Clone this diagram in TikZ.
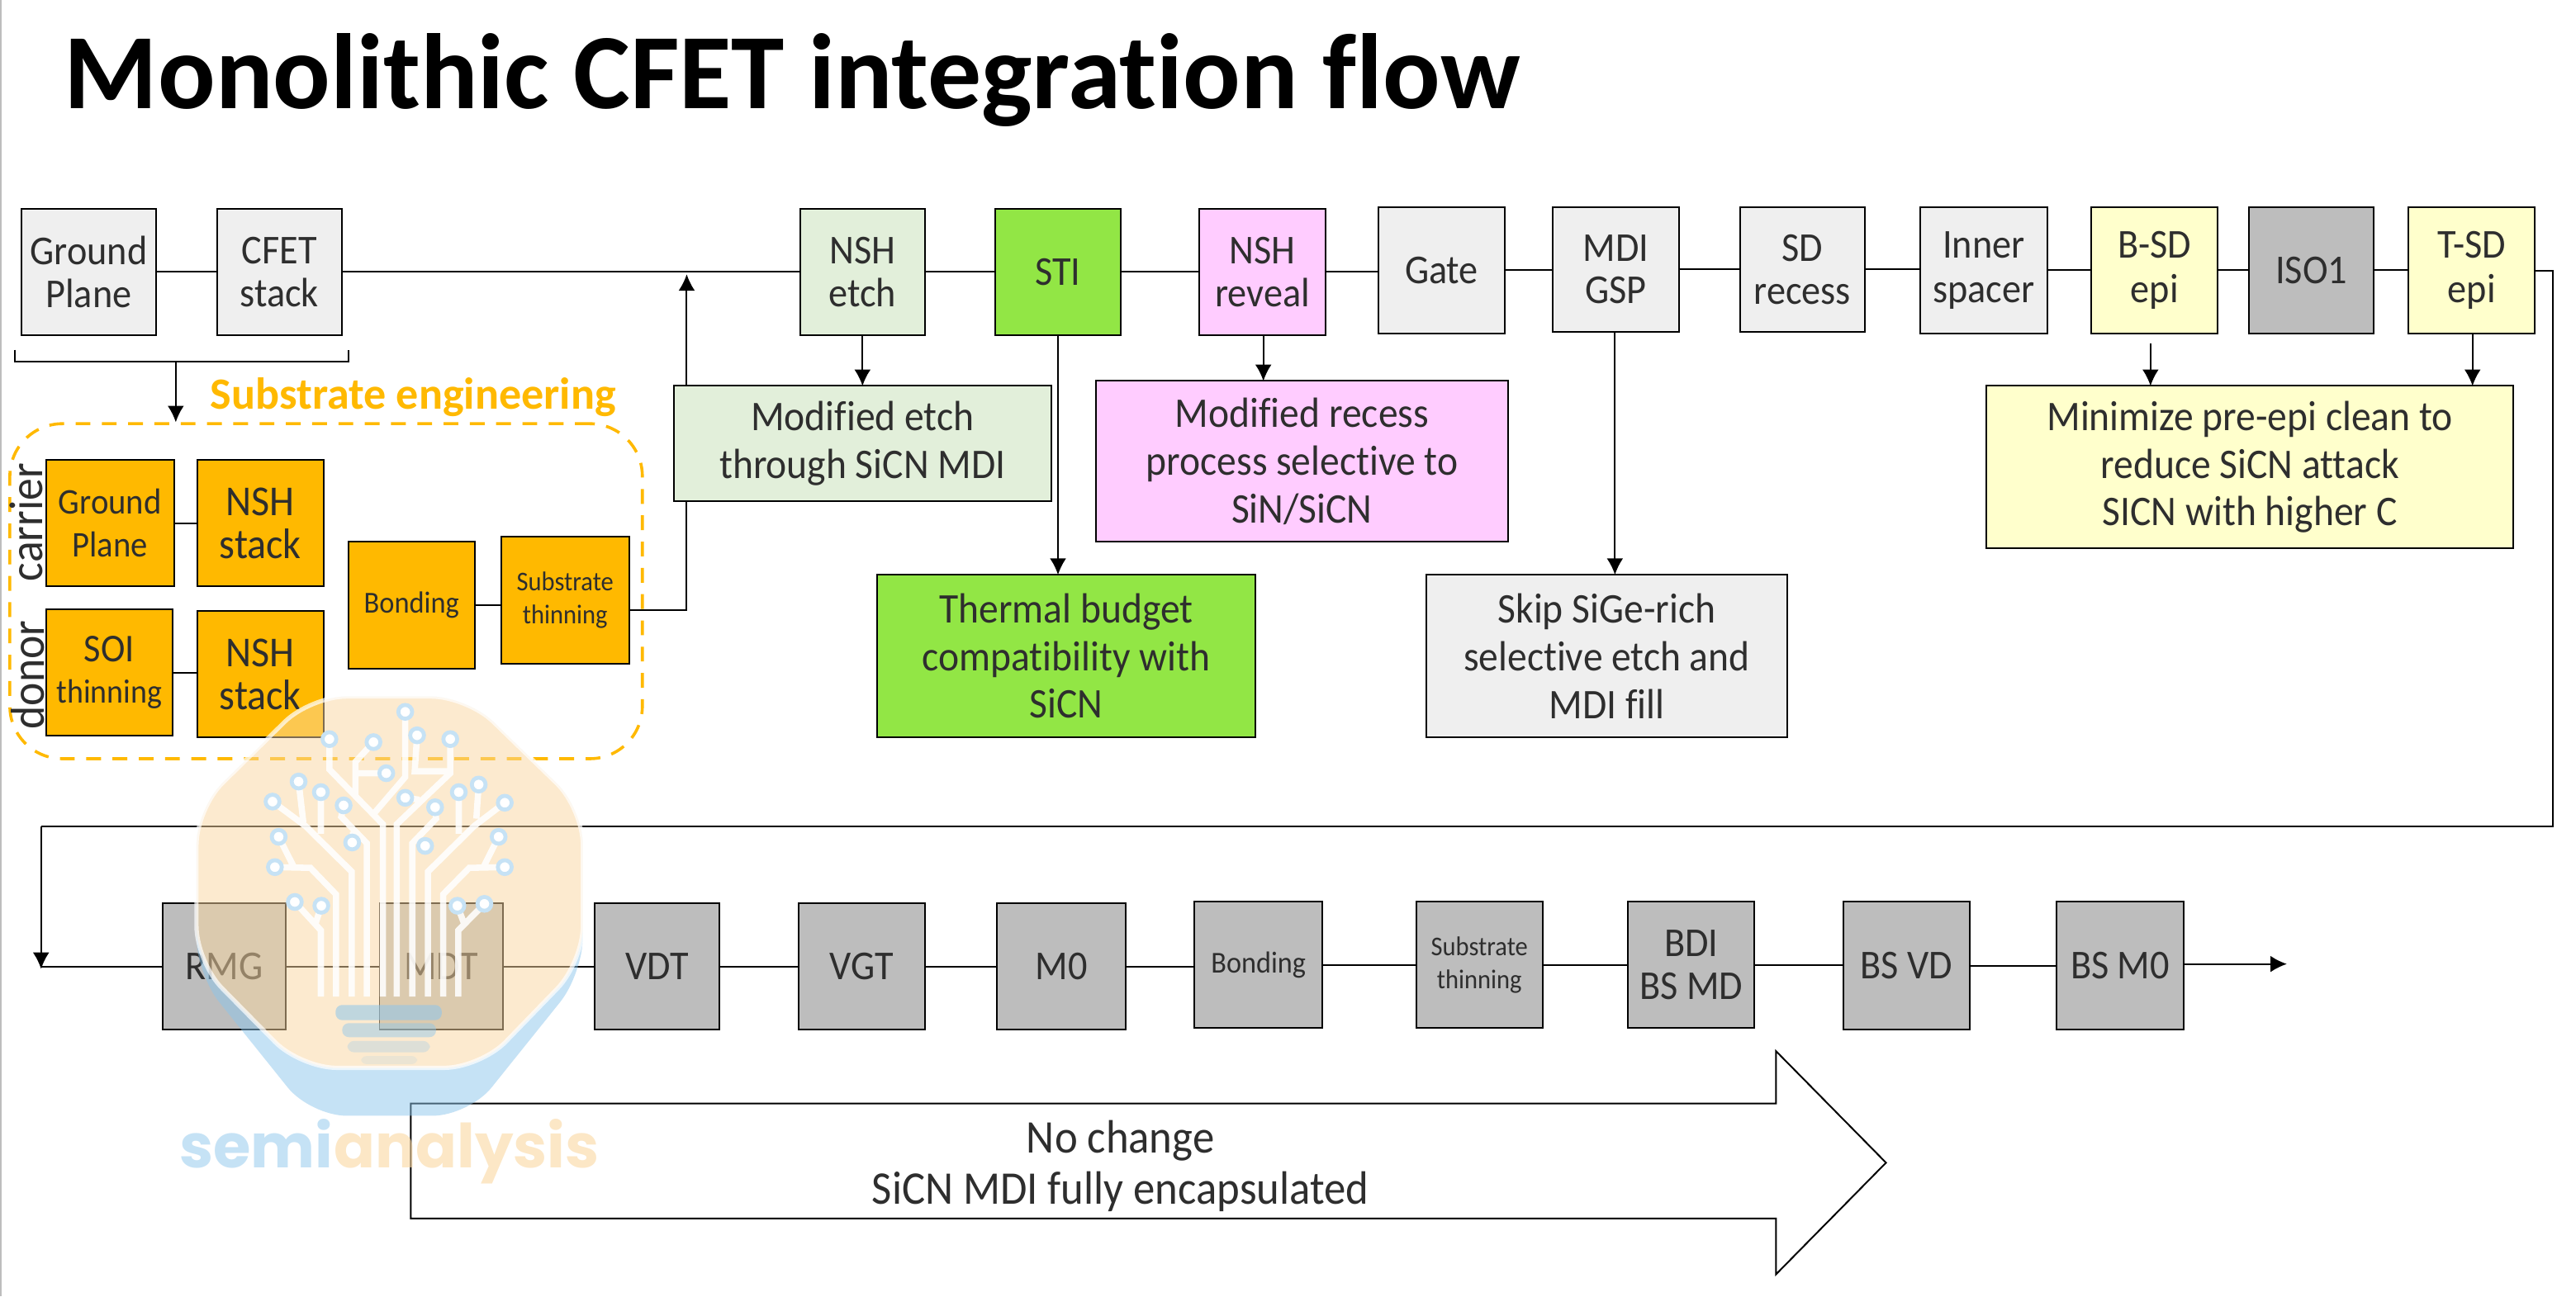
\documentclass[tikz,border=0pt]{standalone}
\usepackage{fontspec}
\setmainfont{Carlito}[Ligatures=NoCommon,FakeStretch=0.93]
\newfontfamily\headf{Carlito}[Ligatures=NoCommon]
\newfontfamily\wmfont{Poppins}
\usetikzlibrary{arrows.meta,calc}
\definecolor{lgray}{HTML}{EFEFEF}
\definecolor{mgray}{HTML}{BDBDBD}
\definecolor{lgreen}{HTML}{E2EFDA}
\definecolor{sgreen}{HTML}{92E645}
\definecolor{lpink}{HTML}{FFCCFF}
\definecolor{lyel}{HTML}{FFFFCC}
\definecolor{orng}{HTML}{FFB900}
\definecolor{txt}{HTML}{2E2E2E}
\definecolor{wmo}{HTML}{FAD7A0}
\definecolor{wmb}{HTML}{8DC6EC}
\tikzset{
 flowbox/.style={draw=black,line width=1pt,inner sep=0pt,outer sep=0pt,align=center,text=txt,font=\fontsize{25}{26}\selectfont},
 tallbox/.style={flowbox,font=\fontsize{25}{27}\selectfont},
 notebox/.style={flowbox,font=\fontsize{25.7}{29}\selectfont},
 smallbox/.style={flowbox,font=\fontsize{16.5}{20}\selectfont},
 link/.style={draw=black,line width=1pt},
 arr/.style={link,-{Latex[length=10pt,width=10pt]}},
 trace/.style={draw=white,line width=3.8pt,opacity=.88,line join=miter},
 endring/.style={draw=wmb!50,line width=2.4pt,fill=white},
 wmshape/.style={rounded corners=22pt},
}
\newcommand{\bx}[7]{\node[#6,minimum width={(#3-#2)*1pt},minimum height={(#5-#4)*1pt}] (#1) at ({(#2+#3)/2},{(#4+#5)/2}) {#7};}
\newcommand{\lk}[2]{\draw[link] (#1.east) -- (#1.east -| #2.west);}
\begin{document}
\begin{tikzpicture}[x=1pt,y=-1pt]
\useasboundingbox (0,0) rectangle (1568,789.3);
\fill[white] (0,0) rectangle (1568,789.3);
\draw[line width=0.8pt,draw=mgray] (0.4,0) -- (0.4,789.3);
\node[anchor=base west,inner sep=0pt,font=\headf\fontsize{65.2}{65.2}\selectfont\bfseries,text=black] (title) at (39,66) {Monolithic CFET integration flow};
% row 1
\bx{gp}{13}{95}{127}{204}{flowbox,fill=lgray}{Ground\\Plane}
\bx{cfet}{132}{208}{127}{204}{flowbox,fill=lgray}{CFET\\stack}
\bx{nshe}{487}{563}{127}{204}{flowbox,fill=lgreen}{NSH\\etch}
\bx{sti}{606}{682}{127}{204}{flowbox,fill=sgreen}{STI}
\bx{nshr}{730}{807}{127}{204}{flowbox,fill=lpink}{NSH\\reveal}
\bx{gate}{839}{916}{126}{203}{flowbox,fill=lgray}{Gate}
\bx{mdi}{945}{1022}{126}{202}{flowbox,fill=lgray}{MDI\\GSP}
\bx{sd}{1059}{1135}{126}{202}{flowbox,fill=lgray}{SD\\recess}
\bx{inner}{1169}{1246}{126}{203}{tallbox,fill=lgray}{Inner\\spacer}
\bx{bsd}{1273}{1350}{126}{203}{tallbox,fill=lyel}{B-SD\\epi}
\bx{iso}{1369}{1445}{126}{203}{flowbox,fill=mgray}{ISO1}
\bx{tsd}{1466}{1543}{126}{203}{tallbox,fill=lyel}{T-SD\\epi}
\lk{gp}{cfet}\lk{cfet}{nshe}\lk{nshe}{sti}\lk{sti}{nshr}\lk{nshr}{gate}\lk{gate}{mdi}\lk{mdi}{sd}\lk{sd}{inner}\lk{inner}{bsd}\lk{bsd}{iso}\lk{iso}{tsd}
% notes
\bx{nm}{410}{640}{235}{305}{notebox,fill=lgreen}{Modified etch\\through SiCN MDI}
\bx{nr}{667}{918}{232}{330}{notebox,fill=lpink}{Modified recess\\process selective to\\SiN/SiCN}
\bx{nt}{534}{764}{350}{449}{notebox,fill=sgreen}{Thermal budget\\compatibility with\\SiCN}
\bx{ns}{868}{1088}{350}{449}{notebox,fill=lgray}{Skip SiGe-rich\\selective etch and\\MDI fill}
\bx{ny}{1209}{1530}{235}{334}{notebox,fill=lyel}{Minimize pre-epi clean to\\reduce SiCN attack\\SICN with higher C}
\draw[arr] (nshe.south) -- (nshe.south |- nm.north);
\draw[arr] (nshr.south -| 769,0) -- (769,0 |- nr.north);
\draw[arr] (sti.south -| 644,0) -- (644,0 |- nt.north);
\draw[arr] (mdi.south -| 983,0) -- (983,0 |- ns.north);
\draw[arr] ($(bsd.south -| 1309,0)+(0,6)$) -- (1309,0 |- ny.north);
\draw[arr] (tsd.south -| 1505,0) -- (1505,0 |- ny.north);
% substrate engineering
\coordinate (brl) at (9,213);\coordinate (brr) at (212,213);\coordinate (brm) at (107,220);
\draw[link] (brl) -- (9,220) -- (212,220) -- (brr);
\node[draw=orng,dash pattern=on 9pt off 7pt,line width=1.8pt,rounded corners=32pt,inner sep=0pt,minimum width=385pt,minimum height=204pt] (sub) at (198.5,360) {};
\draw[arr] (brm) -- (brm |- sub.north);
\node[inner sep=0pt,font=\headf\fontsize{27.2}{27}\selectfont\bfseries,text=orng] (subt) at (251.5,242) {Substrate engineering};
\bx{ogp}{28}{106}{280}{357}{flowbox,fill=orng}{\fontsize{22}{24}\selectfont Ground\\\fontsize{22}{24}\selectfont Plane}
\bx{ons1}{120}{197}{280}{357}{flowbox,fill=orng,font=\fontsize{26}{26}\selectfont}{NSH\\stack}
\bx{oso}{28}{105}{371}{448}{flowbox,fill=orng,font=\fontsize{24}{25}\selectfont}{SOI\\\fontsize{20.5}{24}\selectfont thinning}
\bx{ons2}{120}{197}{372}{449}{flowbox,fill=orng,font=\fontsize{26}{26}\selectfont}{NSH\\stack}
\bx{obo}{212}{289}{330}{407}{flowbox,fill=orng,font=\fontsize{18.6}{22}\selectfont}{Bonding}
\bx{ost}{305}{383}{327}{404}{smallbox,fill=orng}{Substrate\\thinning}
\lk{ogp}{ons1}\lk{oso}{ons2}\lk{obo}{ost}
\node[rotate=90,inner sep=0pt,font=\fontsize{29}{29}\selectfont,text=txt] (lc) at (16,318) {carrier};
\node[rotate=90,inner sep=0pt,font=\fontsize{29}{29}\selectfont,text=txt] (ld) at (17,411) {donor};
\coordinate (c1) at (418,371.5);\coordinate (tip) at (418,167);
\draw[link] (ost.east |- c1) -- (c1) -- (c1 |- nm.south);
\draw[arr] (c1 |- nm.north) -- (tip);
% row 2
\bx{rmg}{99}{174}{550}{627}{flowbox,fill=mgray}{RMG}
\bx{mdt}{231}{306}{550}{627}{flowbox,fill=mgray}{MDT}
\bx{vdt}{362}{438}{550}{627}{flowbox,fill=mgray}{VDT}
\bx{vgt}{486}{563}{550}{627}{flowbox,fill=mgray}{VGT}
\bx{mz}{607}{685}{550}{627}{flowbox,fill=mgray}{M0}
\bx{bo}{727}{805}{549}{626}{flowbox,fill=mgray,font=\fontsize{18.5}{22}\selectfont}{Bonding}
\bx{st}{862}{939}{549}{626}{smallbox,fill=mgray}{Substrate\\thinning}
\bx{bdi}{991}{1068}{549}{626}{flowbox,fill=mgray}{BDI\\BS MD}
\bx{bvd}{1122}{1199}{549}{627}{flowbox,fill=mgray}{BS VD}
\bx{bm}{1252}{1329}{549}{627}{flowbox,fill=mgray}{BS M0}
\lk{rmg}{mdt}\lk{mdt}{vdt}\lk{vdt}{vgt}\lk{vgt}{mz}\lk{mz}{bo}\lk{bo}{st}\lk{st}{bdi}\lk{bdi}{bvd}\lk{bvd}{bm}
\coordinate (rowend) at (1392,587);
\draw[arr] (bm.east |- rowend) -- (rowend);
% return line
\coordinate (r1) at (1554,165);\coordinate (r2) at (1554,503);\coordinate (r3) at (25,503);\coordinate (r4) at (25,590);
\draw[link] (tsd.east |- r1) -- (r1) -- (r2) -- (r3);
\draw[arr] (r3) -- (r4);
\draw[link] (rmg.west) -- (rmg.west -| r4);
% big arrow
\node[inner sep=0pt,minimum size=0pt] (ba) at (250,707) {};
\draw[draw=black,line width=1pt,fill=white] (ba.center |- 0,672) -- (1081,672) -- (1081,640) -- (1148,708) -- (1081,776) -- (1081,742) -- (ba.center |- 0,742) -- cycle;
\node[inner sep=0pt,align=center,text=txt,font=\fontsize{28.5}{31}\selectfont] (bt) at (682,710) {No change\\SiCN MDI fully encapsulated};
% watermark
\begin{scope}[scale=1.005]
\fill[wmb,opacity=.5,even odd rule] [wmshape] (188,422) -- (283,422) -- (353,490) -- (353,590) -- (284,676) -- (188,676) -- (119,590) -- (119,490) -- cycle
  (188,422) -- (283,422) -- (353,490) -- (353,583) -- (291,647) -- (182,647) -- (119,583) -- (119,490) -- cycle;
\fill[wmo,opacity=.5,wmshape] (188,422) -- (283,422) -- (353,490) -- (353,583) -- (291,647) -- (182,647) -- (119,583) -- (119,490) -- cycle;
\draw[white,line width=2.6pt,opacity=.7,wmshape] (188,422) -- (283,422) -- (353,490) -- (353,583) -- (291,647) -- (182,647) -- (119,583) -- (119,490) -- cycle;
\end{scope}
\begin{scope}[shift={(0pt,-427pt)},x=0.2885pt,y=-0.2306pt]
\draw[trace] (677,780)--(677,605)--(622,530) (665,590)--(678,540);
\draw[trace] (709,780)--(709,510)--(655,440)--(580,438) (620,438)--(588,358);
\draw[trace] (742,780)--(742,450)--(645,330)--(575,265) (640,320)--(630,212) (677,350)--(677,240);
\draw[trace] (774,780)--(774,375)--(720,305)--(725,275) (745,345)--(743,373);
\draw[trace] (808,780)--(808,325)--(695,180)--(695,100) (750,250)--(750,160)--(788,108) (750,190)--(815,190) (790,295)--(855,200)--(855,28);
\draw[trace] (837,780)--(837,325)--(950,190)--(950,100) (950,185)--(875,185)--(880,90) (885,260)--(855,255);
\draw[trace] (870,780)--(870,375)--(920,310)--(918,280) (880,365)--(897,382);
\draw[trace] (903,780)--(903,450)--(1000,330)--(1065,268) (968,350)--(968,240) (1005,310)--(1010,220);
\draw[trace] (935,780)--(935,510)--(990,440)--(1065,438) (1020,438)--(1052,358);
\draw[trace] (967,780)--(967,605)--(1022,535) (980,590)--(965,540);
\foreach \p in {(622,530),(678,540),(580,438),(588,358),(575,265),(630,212),(677,240),(725,275),(743,373),(695,100),(788,108),(815,190),(855,28),(950,100),(880,90),(855,255),(918,280),(897,382),(1065,268),(968,240),(1010,220),(1065,438),(1052,358),(1022,535),(965,540)}
  \path[endring] \p circle[radius=4.2pt];
\fill[wmb,opacity=.55,rounded corners=4pt] (708,802) rectangle (932,842);
\fill[wmb,opacity=.45,rounded corners=4pt] (722,850) rectangle (920,887);
\fill[wmb,opacity=.28,rounded corners=4pt] (733,897) rectangle (907,927);
\fill[wmb,opacity=.15,rounded corners=3pt] (762,937) rectangle (880,958);
\end{scope}
\node[anchor=base west,inner sep=0pt,font=\wmfont\bfseries\fontsize{37}{37}\selectfont,text=wmb,text opacity=.5] (wm1) at (109,711) {semi};
\node[anchor=base west,inner sep=0pt,font=\wmfont\bfseries\fontsize{37}{37}\selectfont,text=wmo,text opacity=.6] (wm2) at (wm1.base east) {analysis};
\end{tikzpicture}
\end{document}
